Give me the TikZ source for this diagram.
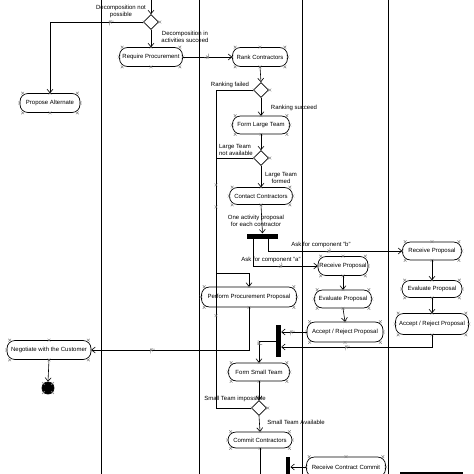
\documentclass[tikz,border=0pt]{standalone}
\usepackage{fontspec}
\setmainfont{Liberation Sans}
\usetikzlibrary{arrows.meta,shapes.geometric,decorations.markings,calc}
\begin{document}
\begin{tikzpicture}[x=1pt,y=-1pt,
  txt/.style={font=\fontsize{6}{7}\selectfont},
  act/.style={draw,line width=0.7pt,rounded corners=8pt,inner sep=0pt,minimum height=19pt,txt},
  dia/.style={draw,diamond,shape aspect=1,minimum size=15pt,inner sep=0pt,line width=0.7pt},
  barnode/.style={fill=black,inner sep=0pt},
  lbl/.style={txt,inner sep=0pt,align=center},
  lane/.style={line width=0.7pt},
  ar/.style={-{Straight Barb[length=3.5pt,width=6pt]},line width=0.6pt},
  ln/.style={line width=0.6pt},
  midx/.style={postaction={decorate,decoration={markings,
     mark=at position #1 with {\draw[gray,line width=0.4pt] (-1.4pt,-1.4pt)--(1.4pt,1.4pt) (-1.4pt,1.4pt)--(1.4pt,-1.4pt);}}}},
  xmark/.pic={\draw[gray,line width=0.4pt] (-1.4,-1.4)--(1.4,1.4) (-1.4,1.4)--(1.4,-1.4);}
]
\useasboundingbox (0,0) rectangle (474,474);
\clip (0,0) rectangle (474,474);
\fill[white] (0,0) rectangle (474,474);

% swimlanes
\draw[lane] (101,0)--(101,474);
\draw[lane] (199,0)--(199,474);
\draw[lane] (302,0)--(302,474);
\draw[lane] (388,0)--(388,474);

% activities
\node[act,minimum width=60pt] (pa) at (50,103) {Propose Alternate};
\node[act,minimum width=63pt] (rp) at (151,57) {Require Procurement};
\node[act,minimum width=55pt] (rc) at (260,57) {Rank Contractors};
\node[act,minimum width=57pt,minimum height=18pt] (flt) at (261,125) {Form Large Team};
\node[act,minimum width=63pt,minimum height=17pt] (cc) at (261,196) {Contact Contractors};
\node[act,minimum width=95pt,minimum height=20pt] (ppp) at (249,297) {Perform Procurement Proposal};
\node[act,minimum width=50pt] (rpa) at (343,266) {Receive Proposal};
\node[act,minimum width=57pt,minimum height=18pt] (epa) at (343,299) {Evaluate Proposal};
\node[act,minimum width=76pt,minimum height=20pt] (arpa) at (345,332) {Accept / Reject Proposal};
\node[act,minimum width=59pt,minimum height=18pt] (rpb) at (432,251) {Receive Proposal};
\node[act,minimum width=60pt,minimum height=17pt] (epb) at (432,289) {Evaluate Proposal};
\node[act,minimum width=73pt,minimum height=21pt] (arpb) at (432,324) {Accept / Reject Proposal};
\node[act,minimum width=61pt,minimum height=18pt] (fst) at (259,372) {Form Small Team};
\node[act,minimum width=64pt,minimum height=16pt] (cmc) at (260,440) {Commit Contractors};
\node[act,minimum width=84pt] (nc) at (49,350) {Negotiate with the Customer};
\node[act,minimum width=79pt,minimum height=20pt] (rcc) at (346,467) {Receive Contract Commit};

% decisions
\node[dia] (d1) at (151,22) {};
\node[dia] (d2) at (261,90) {};
\node[dia] (d3) at (261,158) {};
\node[dia] (d4) at (259,408) {};

% bars
\node[barnode,minimum width=31pt,minimum height=5pt] (fork) at (262.5,236) {};
\node[barnode,minimum width=5pt,minimum height=32pt] (join) at (278.5,341) {};
\node[barnode,minimum width=4.5pt,minimum height=24pt] (join2) at (288,469) {};
\draw[line width=2pt] (400,473)--(463,473);

% final node
\node[circle,draw,fill=black,line width=0.7pt,minimum size=12pt,inner sep=0pt] (fin) at (48,388) {};

% handles
\foreach \n in {pa,rp,rc,flt,cc,ppp,rpa,epa,arpa,rpb,epb,arpb,fst,cmc,nc,rcc}{
  \foreach \a/\dx in {north west/3,north east/-3,south west/3,south east/-3,west/0,east/0,north/0,south/0}
    \pic at ([xshift=\dx pt]\n.\a) {xmark};
}
\foreach \n in {d1,d2,d3,d4}{
  \foreach \a in {east,west}
    \pic at ([xshift=1pt]\n.\a) {xmark};
}
\foreach \a in {north west,north east,south west,south east}
  \pic at (fin.\a) {xmark};

% top flow
\coordinate (top) at (151,0);
\draw[ar] (top) -- (d1.north);
\draw[ar,midx=0.2] (d1.west) -| (pa.north);
\draw[ar] (d1.south) -- (rp.north);
\draw[ar,midx=0.5] (rp.east) -- (rc.west);
\draw[ar] (rc.south) -- (d2.north);
\draw[ar] (d2.south) -- (flt.north);
\draw[ar] (flt.south) -- (d3.north);
\draw[ar] (d3.south) -- (cc.north);
\draw[ar] (cc.south) -- (fork.north);

% failure paths
\coordinate (m1) at (216,273);
\draw[ln,midx=0.6,midx=0.7] (d2.west) -| (m1);
\draw[ar] (m1) -| (ppp.north);
\draw[ln] (d3.west) -- (d3.west -| m1);
\draw[ln,midx=0.75] (d4.west) -| (m1);

% fork branches
\draw[ar,midx=0.6] ([xshift=6pt]fork.south west) |- (rpa.west);
\draw[ar,midx=0.5] ([xshift=-10pt]fork.south east) |- (rpb.west);

% lane 3
\draw[ar] (rpa.south) -- (epa.north);
\draw[ar] (epa.south) -- (arpa.north);
\draw[ar,midx=0.6] (arpa.west) -- (arpa.west -| join.east);
% lane 4
\draw[ar] (rpb.south) -- (epb.north);
\draw[ar] (epb.south) -- (arpb.north);
\draw[ar,midx=0.6] (arpb.south) |- ([yshift=-6pt]join.east);

% join to small team
\draw[ar,midx=0.5] (join.west) -| (fst.north);
\draw[ar] (fst.south) -- (d4.north);
\draw[ar] (d4.south) -- (cmc.north);
\draw[ln] (cmc.south) -- +(0,40);
\draw[ar] (rcc.west) -- (rcc.west -| join2.east);

% to negotiate
\draw[ar,midx=0.7] (ppp.south) |- (nc.east);
\draw[ar] (nc.south) -- (fin.north);

% labels
\node[lbl] (l1) at (121,11) {Decomposition not\\possible};
\node[lbl] (l2) at (185,36.5) {Decomposition in\\activities succeed};
\node[lbl] (l3) at (230,85) {Ranking failed};
\node[lbl] (l4) at (294,108) {Ranking succeed};
\node[lbl,align=left] (l5) at (236,149.5) {Large Team\\not available};
\node[lbl] (l6) at (281,178) {Large Team\\formed};
\node[lbl] (l7) at (256,220.5) {One activity proposal\\for each contractor};
\node[lbl] (l8) at (271,260) {Ask for component "a"};
\node[lbl] (l9) at (321,245) {Ask for component "b"};
\node[lbl] (l10) at (235,399) {Small Team impossible};
\node[lbl] (l11) at (296,422) {Small Team Available};
\end{tikzpicture}
\end{document}
